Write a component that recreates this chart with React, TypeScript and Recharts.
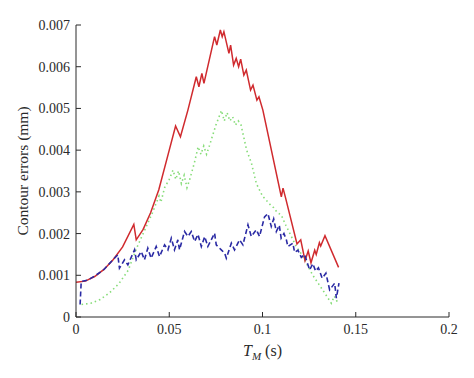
import { LineChart, Line, XAxis, YAxis } from 'recharts'

// series: [time (s), contour error (mm)]
const redT = [0, 0.005, 0.01, 0.015, 0.02, 0.025, 0.031, 0.0323, 0.036, 0.04, 0.0444, 0.05, 0.0534, 0.056, 0.06, 0.0645, 0.0659, 0.0675, 0.0686, 0.0743, 0.0755, 0.0774, 0.0784, 0.0793, 0.082, 0.0829, 0.0845, 0.0859, 0.0872, 0.0883, 0.09, 0.0913, 0.0936, 0.0949, 0.097, 0.0981, 0.1002, 0.1101, 0.111, 0.1124, 0.1185, 0.1205, 0.1228, 0.1245, 0.126, 0.128, 0.1288, 0.1305, 0.1312, 0.1335, 0.1408]
const redV = [0.00083, 0.00086, 0.00097, 0.00114, 0.00138, 0.00168, 0.00222, 0.00185, 0.0021, 0.0025, 0.00305, 0.004, 0.00458, 0.00432, 0.00496, 0.00576, 0.00552, 0.00584, 0.0056, 0.00672, 0.00652, 0.00688, 0.00672, 0.00684, 0.00632, 0.00652, 0.00604, 0.0062, 0.006, 0.00618, 0.0058, 0.00592, 0.00544, 0.00556, 0.0052, 0.00528, 0.00496, 0.00288, 0.00309, 0.00285, 0.00175, 0.00185, 0.00135, 0.00158, 0.0013, 0.0016, 0.0015, 0.00178, 0.0017, 0.00195, 0.00119]

const greenT = [0.003, 0.008, 0.013, 0.018, 0.023, 0.028, 0.0325, 0.037, 0.041, 0.0445, 0.0455, 0.0475, 0.05, 0.052, 0.0535, 0.055, 0.0565, 0.058, 0.0595, 0.061, 0.0635, 0.0655, 0.067, 0.0685, 0.07, 0.0715, 0.075, 0.078, 0.0795, 0.081, 0.0825, 0.084, 0.0855, 0.087, 0.0885, 0.0915, 0.094, 0.0967, 0.1, 0.102, 0.104, 0.106, 0.108, 0.11, 0.1125, 0.1147, 0.118, 0.121, 0.1236, 0.127, 0.13, 0.133, 0.1369, 0.1385, 0.1405]
const greenV = [0.0003, 0.00033, 0.00042, 0.00058, 0.0008, 0.00112, 0.00165, 0.0021, 0.0025, 0.0029, 0.00275, 0.0031, 0.0033, 0.00352, 0.0033, 0.0035, 0.0032, 0.0034, 0.0031, 0.0033, 0.0037, 0.00408, 0.0039, 0.0041, 0.0039, 0.0041, 0.0046, 0.00495, 0.0047, 0.0049, 0.0047, 0.0048, 0.0046, 0.0047, 0.0046, 0.004, 0.0037, 0.0032, 0.0029, 0.0028, 0.0027, 0.00262, 0.0025, 0.00245, 0.0022, 0.002, 0.0017, 0.0015, 0.00128, 0.001, 0.0008, 0.0006, 0.00033, 0.0005, 0.00033]

const blueT = [0.0022, 0.0028, 0.006, 0.01, 0.015, 0.02, 0.0224, 0.0233, 0.026, 0.0278, 0.0314, 0.0323, 0.035, 0.0367, 0.0385, 0.0403, 0.043, 0.0448, 0.0475, 0.0493, 0.0511, 0.0528, 0.0546, 0.0555, 0.0582, 0.06, 0.0618, 0.0636, 0.0654, 0.0672, 0.069, 0.0707, 0.0743, 0.0752, 0.0779, 0.0797, 0.0806, 0.0833, 0.085, 0.0877, 0.0895, 0.0922, 0.094, 0.0967, 0.0984, 0.1011, 0.1029, 0.1047, 0.106, 0.1074, 0.109, 0.11, 0.1115, 0.1128, 0.1136, 0.1163, 0.1172, 0.119, 0.1208, 0.1225, 0.1253, 0.127, 0.1285, 0.13, 0.132, 0.134, 0.136, 0.1387, 0.1396, 0.141]
const blueV = [0.0003, 0.00085, 0.00088, 0.00098, 0.00114, 0.00138, 0.00149, 0.00117, 0.00137, 0.00125, 0.00161, 0.00137, 0.00157, 0.00137, 0.00165, 0.00141, 0.00169, 0.00145, 0.00173, 0.00161, 0.00189, 0.00161, 0.00185, 0.00161, 0.00205, 0.00193, 0.00205, 0.00181, 0.00198, 0.00169, 0.00193, 0.00169, 0.00201, 0.00173, 0.00161, 0.00153, 0.00141, 0.00177, 0.00161, 0.00185, 0.00173, 0.00221, 0.00193, 0.00209, 0.00193, 0.0024, 0.00248, 0.00217, 0.00235, 0.00205, 0.0022, 0.00189, 0.002, 0.00185, 0.00169, 0.00177, 0.00155, 0.0016, 0.00143, 0.0015, 0.00113, 0.00128, 0.0011, 0.00118, 0.00093, 0.00105, 0.00065, 0.00081, 0.00045, 0.00081]

const xTicks = [0, 0.05, 0.1, 0.15, 0.2]
const yTicks = [0, 0.001, 0.002, 0.003, 0.004, 0.005, 0.006, 0.007]

const toRows = (ts: number[], vs: number[]) => ts.map((t, i) => ({ t, v: vs[i] }))

const red = toRows(redT, redV)
const green = toRows(greenT, greenV)
const blue = toRows(blueT, blueV)

const font = "'Liberation Serif', 'Times New Roman', serif"
const ink = '#2a2a2a'
const tickStyle = { fontFamily: font, fontSize: 14, fill: ink }

function XTitle({ viewBox }: any) {
  const cx = viewBox.x + viewBox.width / 2
  return (
    <text x={cx} y={viewBox.y + 39} textAnchor="middle" style={{ fontFamily: font }} fontSize={16} fill={ink}>
      <tspan fontStyle="italic">T</tspan>
      <tspan fontStyle="italic" fontSize={11} dy={4}>M</tspan>
      <tspan dy={-4}> (s)</tspan>
    </text>
  )
}

function YTitle({ viewBox }: any) {
  const cy = viewBox.y + viewBox.height / 2
  const x = 28
  return (
    <text x={x} y={cy} transform={`rotate(-90, ${x}, ${cy})`} textAnchor="middle" style={{ fontFamily: font }} fontSize={15.5} fill={ink}>
      Contour errors (mm)
    </text>
  )
}

export default function App() {
  return (
    <div style={{ position: 'absolute', left: 0, top: 0, width: 474, height: 378, background: '#fff', fontFamily: font }}>
      <LineChart width={474} height={378} margin={{ top: 25, right: 25, bottom: 31, left: 16 }} style={{ fontFamily: font }}>
        <XAxis
          xAxisId="b"
          type="number"
          dataKey="t"
          domain={[0, 0.2]}
          ticks={xTicks}
          allowDataOverflow
          height={30}
          tickSize={-5}
          tickMargin={12}
          tick={tickStyle}
          stroke={ink}
          label={<XTitle />}
        />
        <XAxis
          xAxisId="top"
          orientation="top"
          type="number"
          dataKey="t"
          domain={[0, 0.2]}
          ticks={xTicks}
          allowDataOverflow
          height={0}
          tickSize={-5}
          tick={false}
          stroke={ink}
        />
        <YAxis
          yAxisId="l"
          type="number"
          domain={[0, 0.007]}
          ticks={yTicks}
          allowDataOverflow
          width={60}
          tickSize={-5}
          tickMargin={11}
          tick={tickStyle}
          stroke={ink}
          label={<YTitle />}
        />
        <YAxis
          yAxisId="r"
          orientation="right"
          type="number"
          domain={[0, 0.007]}
          ticks={yTicks}
          allowDataOverflow
          width={0}
          tickSize={-5}
          tick={false}
          stroke={ink}
        />
        <Line xAxisId="b" yAxisId="l" data={green} dataKey="v" type="linear" stroke="#86dc78" strokeWidth={1.6} strokeDasharray="1.5 3" dot={false} isAnimationActive={false} />
        <Line xAxisId="b" yAxisId="l" data={red} dataKey="v" type="linear" stroke="#d02a2e" strokeWidth={1.5} dot={false} isAnimationActive={false} />
        <Line xAxisId="b" yAxisId="l" data={blue} dataKey="v" type="linear" stroke="#2a2aa4" strokeWidth={1.6} strokeDasharray="5 3" dot={false} isAnimationActive={false} />
      </LineChart>
    </div>
  )
}
